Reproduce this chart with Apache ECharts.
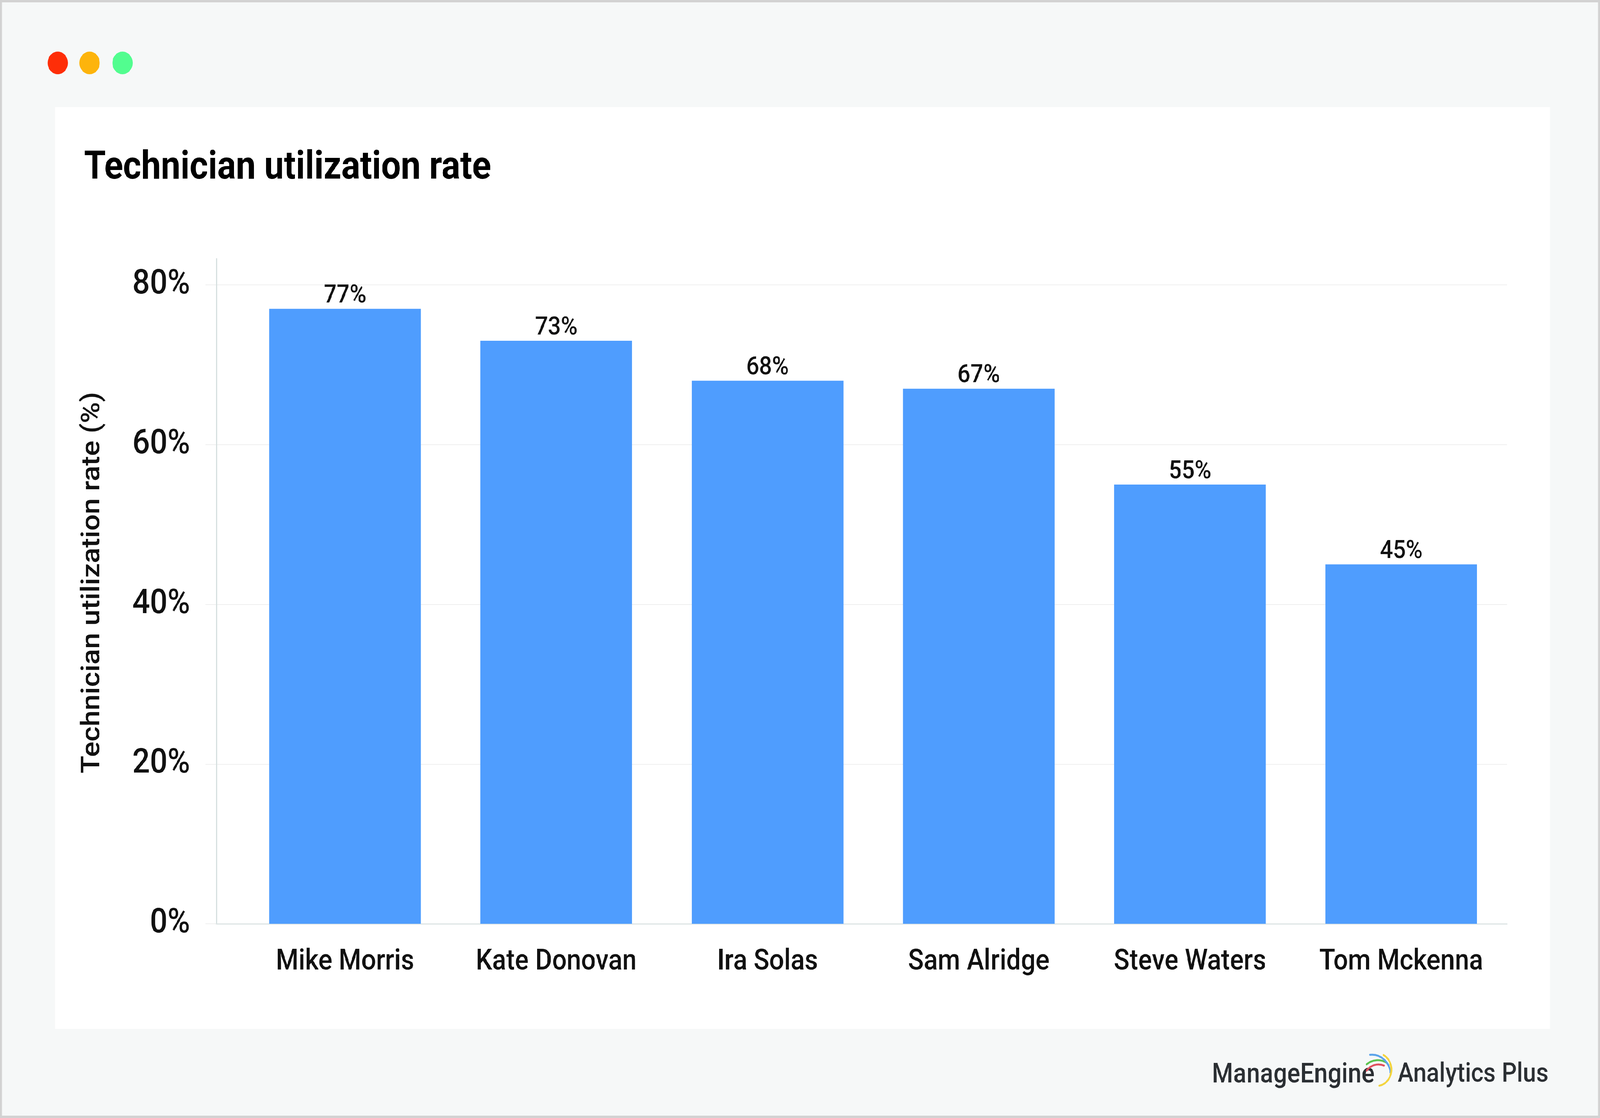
<!DOCTYPE html>
<html>
<head>
<meta charset="utf-8">
<script src="https://cdn.jsdelivr.net/npm/echarts@6/dist/echarts.min.js"></script>
<style>
  html, body { margin: 0; padding: 0; width: 100%; height: 100%; overflow: hidden; background: #d2d2d2; }
  #stage { position: absolute; left: 0; top: 0; width: 4571px; height: 2861px; transform-origin: 0 0; background: #d2d2d2; }
  #frame { position: absolute; left: 6px; top: 6px; width: 4559px; height: 2849px; background: #f6f8f8; }
  #card { position: absolute; left: 157px; top: 274px; width: 4271px; height: 2359px; background: #ffffff; }
  #chart { position: absolute; left: 0; top: 0; width: 4571px; height: 2861px; }
</style>
</head>
<body>
<div id="stage">
  <div id="frame"></div>
  <div id="card"></div>
  <div id="chart"></div>
</div>
<script>
const categories = ['Mike Morris', 'Kate Donovan', 'Ira Solas', 'Sam Alridge', 'Steve Waters', 'Tom Mckenna'];
const utilization = [77, 73, 68, 67, 55, 45];
const yTickStep = 20;
const yTickMax = 80;
const chartTitle = 'Technician utilization rate';
const yAxisTitle = 'Technician utilization rate (%)';

const W = 4571, H = 2861;
const sx = window.innerWidth / W, sy = window.innerHeight / H;
document.getElementById('stage').style.transform = 'scale(' + sx + ',' + sy + ')';

const chart = echarts.init(document.getElementById('chart'), null, {
  renderer: 'canvas', width: W, height: H,
  devicePixelRatio: Math.max(1, (window.devicePixelRatio || 1) * Math.max(sx, sy))
});
const FONT = 'Roboto, "Noto Sans", sans-serif';
const TXT = '#111111';
const TOP = 729, BOTTOM = H - 2364, RIGHT = W - 4305;

function arc(cx, cy, r, a0, a1, color) {
  return {
    type: 'arc', silent: true,
    shape: { cx: cx, cy: cy, r: r, startAngle: a0 * Math.PI / 180, endAngle: a1 * Math.PI / 180, clockwise: true },
    style: { stroke: color, lineWidth: 5, fill: null, lineCap: 'round' }
  };
}

const option = {
  backgroundColor: 'transparent',
  animation: false,
  title: {
    text: chartTitle,
    left: 240, top: 382, padding: 0,
    textStyle: { fontFamily: FONT, fontSize: 100, fontWeight: 700, color: '#000' }
  },
  grid: [
    { left: 684, right: RIGHT, top: TOP, bottom: BOTTOM },
    { left: 587, right: RIGHT, top: TOP, bottom: BOTTOM },
    { left: 618, right: RIGHT, top: 662, bottom: BOTTOM }
  ],
  xAxis: [
    {
      gridIndex: 0, type: 'category', data: categories,
      axisLine: { show: false }, axisTick: { show: false },
      axisLabel: { interval: 0, margin: 61, fontFamily: FONT, fontSize: 74, fontWeight: 500, color: TXT },
      splitLine: { show: false }
    },
    { gridIndex: 1, type: 'value', min: 0, max: 1, show: false },
    {
      gridIndex: 2, type: 'value', min: 0, max: 1,
      axisLine: { show: true, lineStyle: { color: '#dde4e4', width: 3 } },
      axisTick: { show: false }, axisLabel: { show: false }, splitLine: { show: false }
    }
  ],
  yAxis: [
    { gridIndex: 0, type: 'value', min: 0, max: yTickMax, interval: yTickStep, show: false },
    {
      gridIndex: 1, type: 'value', min: 0, max: yTickMax, interval: yTickStep,
      axisLine: { show: false }, axisTick: { show: false },
      axisLabel: {
        margin: 44, padding: [22, 0, 0, 0],
        fontFamily: FONT, fontSize: 88, fontWeight: 500, color: TXT, formatter: v => v + '%'
      },
      splitLine: { show: true, lineStyle: { color: '#efefef', width: 2 } }
    },
    {
      gridIndex: 2, type: 'value', min: 0, max: 1,
      axisLine: { show: true, lineStyle: { color: '#d6e0e0', width: 3 } },
      axisTick: { show: false }, axisLabel: { show: false }, splitLine: { show: false },
      name: yAxisTitle, nameLocation: 'middle', nameGap: 316, nameRotate: 90,
      nameTextStyle: { fontFamily: FONT, fontSize: 74, fontWeight: 500, color: TXT, padding: [0, 0, 0, 44] }
    }
  ],
  series: [
    {
      type: 'bar', xAxisIndex: 0, yAxisIndex: 0,
      data: utilization,
      barCategoryGap: '28.2%',
      itemStyle: { color: '#4f9dfe' },
      label: {
        show: true, position: 'top', distance: 0,
        formatter: p => p.value + '%',
        fontFamily: FONT, fontSize: 65, fontWeight: 500, color: TXT
      }
    }
  ],
  graphic: [
    { type: 'circle', silent: true, shape: { cx: 165, cy: 161, r: 29 }, style: { fill: '#fe2e08' } },
    { type: 'circle', silent: true, shape: { cx: 256, cy: 161, r: 29 }, style: { fill: '#fdb40c' } },
    { type: 'circle', silent: true, shape: { cx: 350, cy: 161, r: 29 }, style: { fill: '#52fd8f' } },
    {
      type: 'text', silent: true, left: 3462, top: 2717,
      style: { text: 'ManageEngine', fontFamily: FONT, fontSize: 70, fontWeight: 500, fill: '#2b2f33' }
    },
    {
      type: 'text', silent: true, left: 3993, top: 2717,
      style: { text: 'Analytics Plus', fontFamily: FONT, fontSize: 68, fontWeight: 500, fill: '#2b2f33' }
    },
    arc(3938, 2768, 44, -140, -69, '#e0505e'),
    arc(3936, 2766, 53, -127, -62, '#5cc34f'),
    arc(3920, 2752, 53, -96, -8, '#5ba3ea'),
    arc(3933, 2737, 42, -62, 80, '#f3d43e')
  ]
};
chart.setOption(option);
</script>
</body>
</html>
